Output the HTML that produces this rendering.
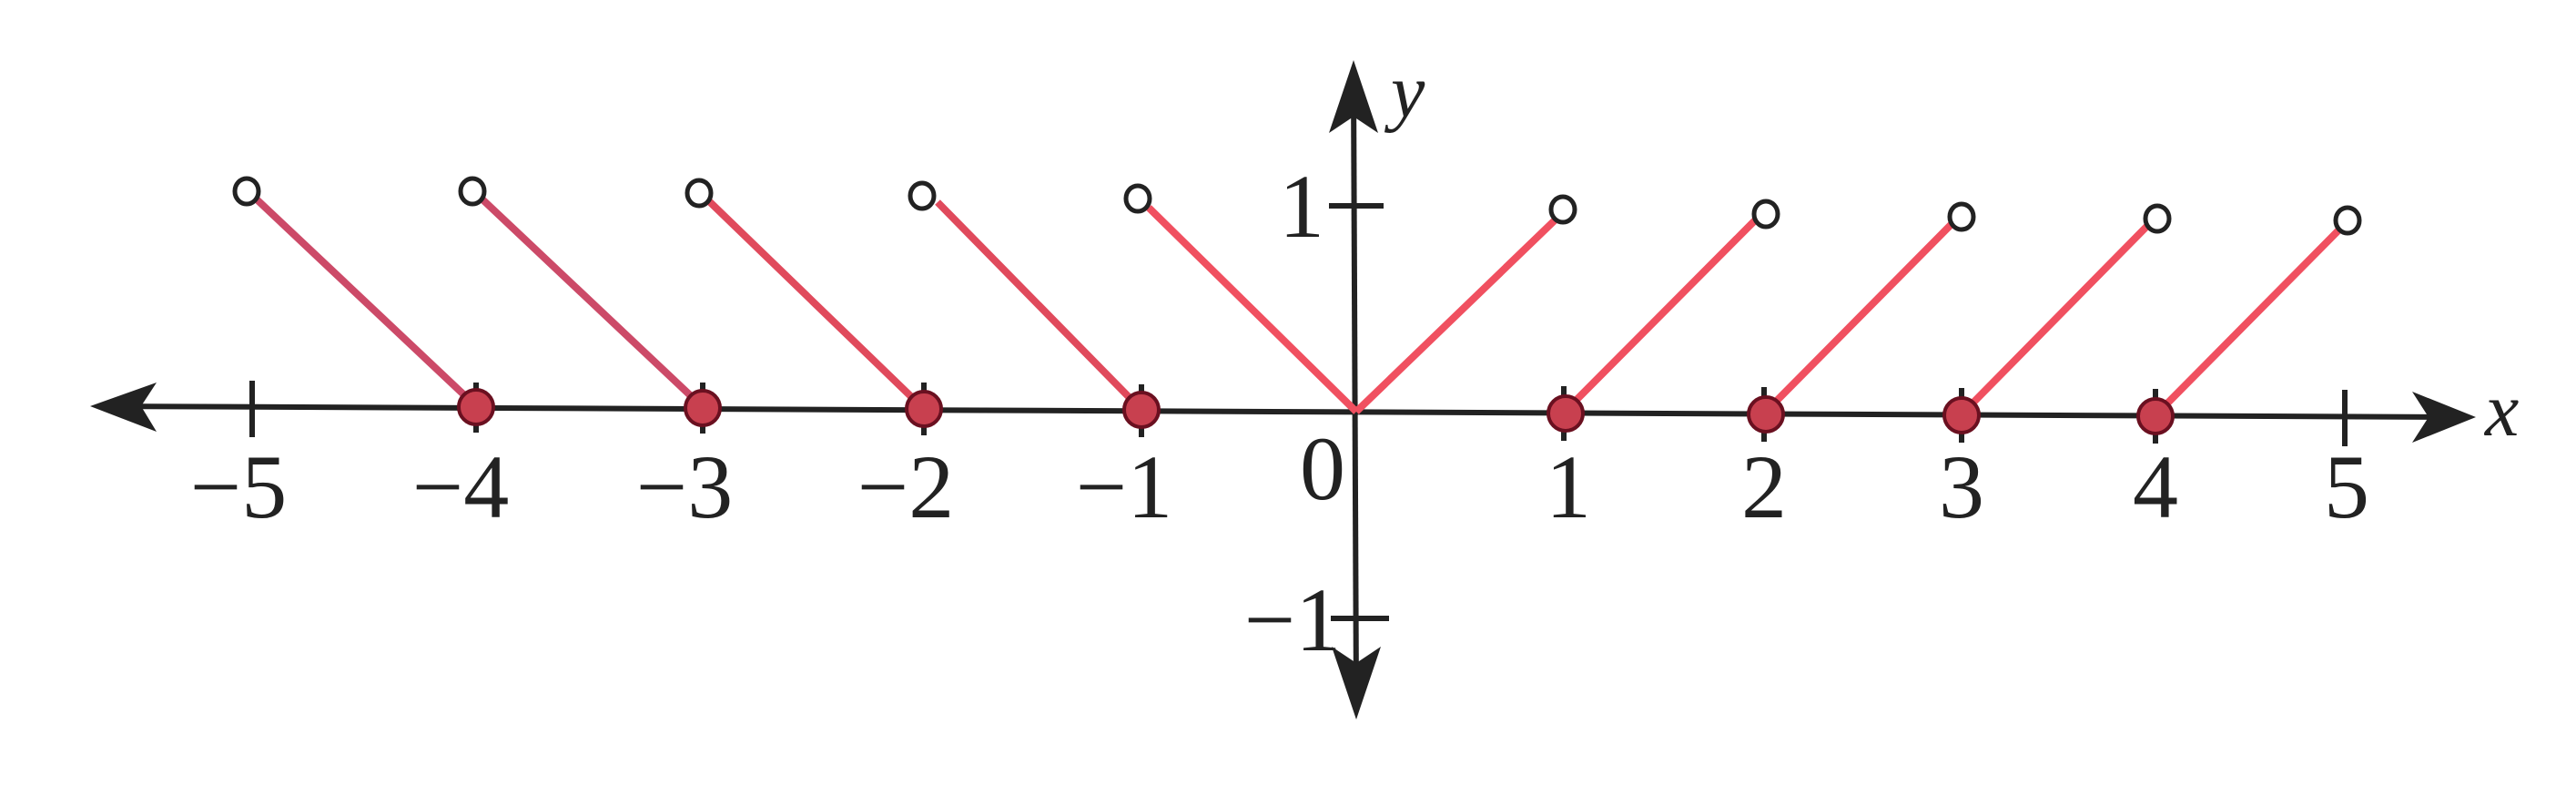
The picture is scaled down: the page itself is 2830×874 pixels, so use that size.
<!DOCTYPE html>
<html><head><style>html,body{margin:0;padding:0;background:#fff;}svg{display:block}</style></head>
<body>
<svg width="2830" height="874" viewBox="0 0 2830 874" xmlns="http://www.w3.org/2000/svg">
<g stroke="#222" stroke-width="6" fill="none">
<line x1="110" y1="446" x2="2700" y2="458"/>
<line x1="1487" y1="90" x2="1490" y2="770"/>
<line x1="277" y1="418" x2="277" y2="480"/>
<line x1="2576" y1="428" x2="2576" y2="490"/>
<line x1="523" y1="420" x2="523" y2="475"/><line x1="772" y1="420" x2="772" y2="476"/>
<line x1="1015" y1="420" x2="1015" y2="478"/><line x1="1254" y1="422" x2="1254" y2="480"/>
<line x1="1718" y1="424" x2="1718" y2="484"/><line x1="1938" y1="425" x2="1938" y2="485"/>
<line x1="2155" y1="426" x2="2155" y2="486"/><line x1="2368" y1="427" x2="2368" y2="487"/>
<line x1="1460" y1="226" x2="1520" y2="226"/><line x1="1462" y1="679" x2="1526" y2="679"/>
</g>
<g fill="#222">
<polygon points="99,446 172,420 155,446 172,474"/>
<polygon points="2720,458 2650,430 2668,458 2650,486"/>
<polygon points="1487,66 1460,146 1487,128 1514,146"/>
<polygon points="1490,790 1463,710 1490,728 1517,710"/>
</g>
<g stroke-width="8" fill="none">
<g stroke="#cc4a68">
<line x1="281" y1="218" x2="523" y2="446"/>
<line x1="529" y1="218" x2="772" y2="447"/>
</g>
<g stroke="#e04a5c">
<line x1="778" y1="220" x2="1015" y2="449"/>
<line x1="1030" y1="222" x2="1254" y2="450"/>
</g>
<g stroke="#f05060">
<line x1="1262" y1="228" x2="1490" y2="452"/>
<line x1="1490" y1="452" x2="1710" y2="240"/>
<line x1="1718" y1="453" x2="1928" y2="242"/>
<line x1="1938" y1="454" x2="2145" y2="245"/>
<line x1="2155" y1="455" x2="2360" y2="247"/>
<line x1="2368" y1="456" x2="2572" y2="250"/>
</g>
</g>
<g fill="#fff" stroke="#222" stroke-width="5">
<ellipse cx="271" cy="210" rx="13" ry="14"/><ellipse cx="519" cy="210" rx="13" ry="14"/>
<ellipse cx="768" cy="212" rx="13" ry="14"/><ellipse cx="1013" cy="215" rx="13" ry="14"/>
<ellipse cx="1250" cy="218" rx="13" ry="14"/>
<ellipse cx="1717" cy="230" rx="13" ry="14"/><ellipse cx="1940" cy="235" rx="13" ry="14"/>
<ellipse cx="2155" cy="238" rx="13" ry="14"/><ellipse cx="2370" cy="240" rx="13" ry="14"/>
<ellipse cx="2579" cy="242" rx="13" ry="14"/>
</g>
<g fill="#c8404f" stroke="#6a1020" stroke-width="4">
<ellipse cx="523" cy="447" rx="19" ry="19"/><ellipse cx="772" cy="448" rx="19" ry="19"/>
<ellipse cx="1015" cy="449" rx="19" ry="19"/><ellipse cx="1254" cy="450" rx="19" ry="19"/>
<ellipse cx="1720" cy="454" rx="19" ry="19"/><ellipse cx="1940" cy="455" rx="19" ry="19"/>
<ellipse cx="2155" cy="456" rx="19" ry="19"/><ellipse cx="2368" cy="457" rx="19" ry="19"/>
</g>
<g font-family="Liberation Serif, serif" font-size="100" fill="#222" text-anchor="middle">
<text x="262" y="568">−5</text><text x="506" y="568">−4</text><text x="752" y="568">−3</text>
<text x="995" y="568">−2</text><text x="1235" y="568">−1</text>
<text x="1453" y="548">0</text>
<text x="1723" y="568">1</text><text x="1938" y="568">2</text><text x="2155" y="568">3</text>
<text x="2368" y="568">4</text><text x="2578" y="568">5</text>
<text x="1430" y="260">1</text>
<text x="1420" y="714">−1</text>
</g>
<g font-family="Liberation Serif, serif" font-style="italic" font-size="84" fill="#222">
<text x="1528" y="128">y</text>
<text x="2730" y="478">x</text>
</g>
</svg>
</body></html>
